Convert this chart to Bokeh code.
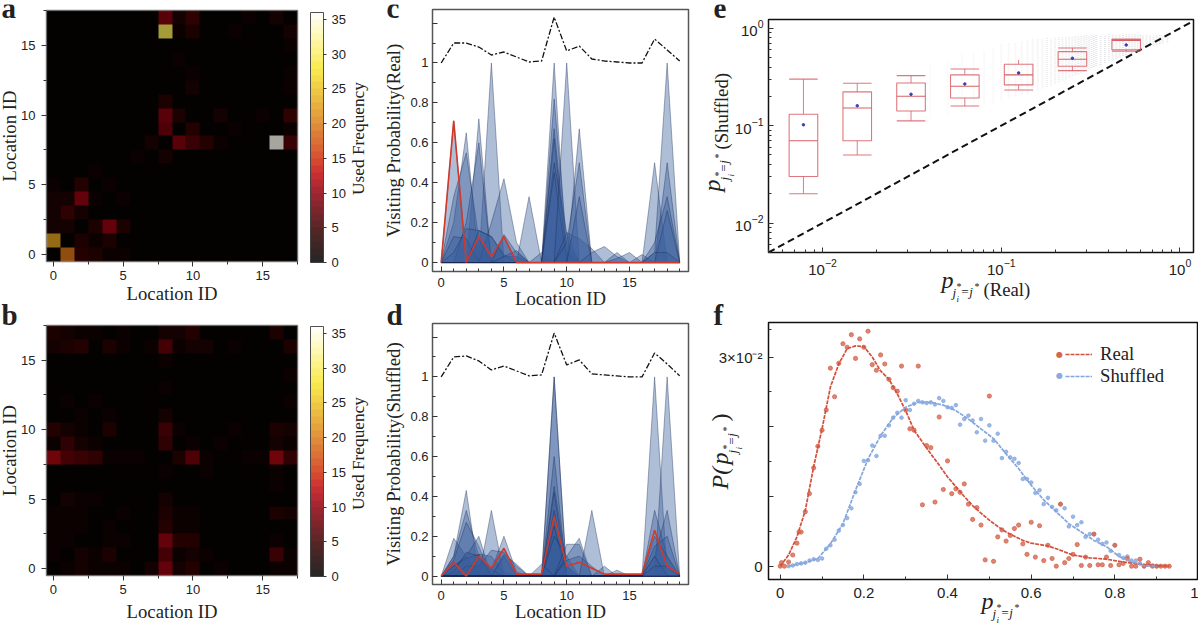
import math
import numpy as np
from bokeh.embed import file_html
from bokeh.resources import INLINE
from bokeh.plotting import figure
from bokeh.layouts import row, column
from bokeh.models import (ColorBar, FixedTicker, Label, Legend, LegendItem, LinearColorMapper,
                          LogTicker, Range1d)

# ---------- data ----------
heat_real = {
 17:{8:9,9:2,10:5,14:1.5,16:2,17:.3},
 16:{8:29.5,9:1.5,10:3,13:1.5,17:2},
 15:{17:1}, 14:{9:1}, 13:{10:1,17:1}, 12:{10:2,17:1}, 11:{8:3.5},
 10:{8:9.5,9:3.5,12:2,15:1,17:5},
 9:{8:8.5,10:4,13:1.5,17:1.5},
 8:{7:2.5,8:.2,9:9.5,10:7,11:4,12:1.5,16:36,17:6},
 7:{6:1,8:2}, 6:{3:1},
 5:{0:1.5,2:4,3:.5,4:1},
 4:{0:2,1:2.5,2:10,3:1.5,5:1},
 3:{0:2.5,1:5,2:2},
 2:{0:2,1:2.5,2:.3,3:3,4:10,5:3.5},
 1:{0:22,1:.1,2:3.5,3:1.5,4:3},
 0:{0:.2,1:19,2:4,3:3,4:1,5:1},
}
heat_shuffled = {
 17:{0:3.5,1:2.5,2:1.5,3:1.5,4:.5,5:1.5,8:2,9:2,10:4.5,16:3,17:.2},
 16:{0:2.5,1:3,2:4,3:.3,4:3.5,5:1.5,7:1,8:7.5,9:1.5,10:2,11:2,13:1,17:3},
 15:{8:1}, 14:{17:1}, 13:{8:1.5}, 12:{1:1,3:1.5,17:1},
 11:{2:1,4:1,8:2.5},
 10:{0:4,1:2,2:1.5,4:3,8:7,9:1,13:1,16:3.5,17:2},
 9:{0:1,1:5,2:2.5,3:1.5,8:5,10:1,12:1,16:2,17:1.5},
 8:{0:11.5,1:7.5,2:6.5,3:5,4:1.5,5:1.5,6:1.5,9:3.5,10:8,11:1.5,14:1,15:1,16:11.5,17:5},
 7:{8:1,11:1,16:1}, 6:{16:1},
 5:{1:2.5,2:1.5,3:1.5,8:2},
 4:{0:1,1:1.5,2:1.5,5:1,8:3.5,9:1.5,10:1,16:3,17:2},
 3:{0:1,1:1,2:1,4:1,8:4,9:1,10:1},
 2:{0:1.5,1:1,4:1.5,5:1,8:10,9:4.5,10:4.5,16:1},
 1:{0:1.5,1:.3,2:2.5,3:1,4:3.5,8:7.5,9:1,10:2,11:1,16:6,17:1},
 0:{1:1.5,2:2,3:1,4:1,5:1,7:2,8:10.5,9:2,10:4,12:1.5,16:1,17:1.5},
}

location_ids = list(range(20))
real_envelope = [1.0,1.10,1.10,1.08,1.04,1.055,1.03,1.005,1.01,1.23,1.06,1.085,1.02,1.01,1.005,1.0,1.0,1.12,1.065,1.01]
shuf_envelope = [1.0,1.10,1.105,1.08,1.035,1.055,1.03,1.005,1.01,1.22,1.06,1.085,1.015,1.01,1.005,1.0,1.0,1.12,1.065,1.005]
real_highlight = [0,.71,0,.13,.03,.13,0,0,0,0,0,0,0,0,0,0,0,0,0,0]
shuf_highlight = [0,.07,0,.10,.04,.14,.01,.01,.01,.30,.05,.07,.04,.01,.01,.01,.01,.23,.05,.01]

real_profiles = [
 {1:.71,3:.13,4:.03,5:.13}, {4:1}, {3:.72}, {1:.2,2:.65}, {1:.33,2:.55,3:.12}, {2:.2,3:.6},
 {4:.2,5:.42,6:.1}, {7:.33}, {1:.13,2:.12}, {1:.05,2:.17,3:.16,4:.13,5:.03,6:.03},
 {3:.16,4:.13,5:.04}, {5:.14,6:.05}, {5:.03,6:.06,8:.05}, {9:1}, {9:.82,10:.1}, {9:.67,10:.05},
 {9:.62}, {9:.5,10:.15}, {9:.45}, {10:1}, {10:.15,11:.12,12:.07}, {11:.67}, {10:.1,11:.5},
 {11:.33}, {12:.05,13:.08,14:.03}, {14:.05,16:.04}, {14:.02,15:.05}, {17:.5}, {17:.05,18:1},
 {18:.5}, {17:.1,18:.33}, {18:.26}, {17:.05,18:.05},
]
shuf_profiles = [
 {1:.1,2:.43}, {1:.19,2:.1}, {1:.1,2:.33,3:.1}, {1:.08,2:.27,3:.15}, {1:.05,2:.1,3:.2},
 {1:.05,2:.09,3:.11,4:.1,5:.02}, {4:.33}, {4:.03,5:.2,6:.02}, {2:.05,3:.05,4:.13,5:.12,6:.05},
 {5:.11,6:.06}, {3:.11,5:.1}, {1:.02,2:.12,3:.1,4:.03}, {1:.07,3:.10,4:.04,5:.14,6:.01},
 {9:1}, {9:1}, {9:.6}, {9:.45,10:.05}, {9:.42}, {9:.33}, {9:.3,10:.05}, {9:.25}, {9:.2,10:.1},
 {8:.06}, {10:.16,11:.16}, {10:.1,11:.19}, {10:.08,11:.1,12:.05}, {12:.33}, {13:.05}, {14:.03},
 {17:1}, {18:1}, {17:.33,18:.1}, {17:.1,18:.33}, {17:.2,18:.1}, {17:.15,18:.2}, {17:.1}, {17:.05,18:.05},
]

box_x = [1/128, 1/64, 1/32, 1/16, 1/8, 1/4, 1/2]
box_whisk_lo = [.02, .05, .112, .159, .232, .367, .58]
box_q1 = [.03, .07, .1415, .192, .262, .407, .60]
box_med = [.07, .152, .20, .254, .332, .48, .75]
box_q3 = [.131, .222, .274, .332, .427, .575, .77]
box_whisk_hi = [.30, .272, .326, .382, .473, .628, .77]
box_mean = [.102, .16, .21, .268, .348, .492, .674]

cloud_x = [.02,.03,.04,.05,.06,.07,.08,.09,.10,.11,.12,.13,.14,.15,.16,.17,.18,.19,.20,.21,.22,.23,.24,.25,.26,.27,.28,.29,.30,.31,.32,.33,.34,.36,.38,.40,.42,.44,.46,.48,.50,.52,.54,.56,.58,.60,.62,.65,.68,.71,.74,.77,.80,.85]
cloud_hi = [.32,.36,.42,.48,.54,.56,.60,.64,.69,.70,.72,.74,.76,.77,.78,.79,.80,.80,.81,.81,.82,.82,.83,.83,.84,.84,.85,.85,.85,.85,.86,.86,.86,.86,.86,.87,.87,.87,.87,.87,.87,.87,.87,.87,.87,.86,.86,.86,.86,.85,.85,.85,.84,.82]
cloud_lo = [.08,.10,.12,.13,.14,.15,.16,.17,.18,.19,.20,.21,.21,.22,.23,.24,.25,.26,.27,.28,.29,.30,.31,.32,.33,.34,.35,.36,.37,.38,.39,.40,.41,.42,.44,.46,.47,.49,.50,.52,.53,.55,.56,.58,.59,.60,.62,.63,.65,.66,.68,.69,.70,.72]

real_pts_x = [0,.003,.01,.02,.03,.04,.045,.05,.06,.07,.08,.09,.10,.11,.12,.13,.14,.15,.16,.17,.18,.19,.20,.21,.22,.23,.24,.25,.26,.27,.28,.29,.30,.31,.32,.33,.34,.35,.36,.37,.38,.39,.40,.41,.42,.43,.44,.45,.46,.47,.48,.49,.50,.51,.52,.53,.54,.55,.56,.57,.58,.59,.60,.61,.62,.63,.64,.65,.66,.67,.68,.69,.70,.71,.72,.73,.74,.75,.76,.77,.78,.79,.80,.81,.82,.83,.84,.85,.86,.87,.88,.89,.90,.91,.92,.93]
real_pts_y = [0,.05,0,.06,.16,.33,.49,.49,.78,1.04,1.41,1.72,1.95,2.24,2.84,2.43,2.91,3.19,3.14,3.32,2.98,3.26,3.14,3.37,2.89,2.81,3.03,2.90,2.68,2.56,2.51,2.87,2.24,1.97,1.95,2.87,.88,1.73,1.70,.92,2.14,1.10,1.51,1.04,1.11,1.06,1.18,.89,.67,.84,.59,.09,2.44,.07,.42,.52,.36,.44,.54,.59,.32,.17,.63,.13,.58,.08,.30,.11,0,.89,.05,.11,.17,.31,.01,.13,.01,.46,.02,.02,.13,.01,.30,.02,.04,.11,0,0,.10,0,.05,0,0,0,0,0]
real_curve_x = [0,.02,.04,.06,.08,.10,.12,.14,.16,.18,.20,.22,.24,.26,.28,.30,.32,.34,.36,.38,.40,.42,.44,.46,.48,.50,.52,.54,.56,.58,.60,.62,.64,.66,.70,.74,.78,.82,.86,.90,.93]
real_curve_y = [0,.16,.42,.80,1.43,1.97,2.57,2.90,3.12,3.16,3.15,3.0,2.80,2.68,2.47,2.23,1.95,1.78,1.61,1.45,1.28,1.14,1.0,.87,.76,.66,.57,.49,.43,.37,.33,.31,.29,.25,.16,.12,.10,.06,.03,.005,0]

shuf_pts_x = [round(.02 + .01*k, 2) for k in range(89)]
shuf_pts_y = [0,.01,.03,.04,.05,.08,.10,.09,.11,.25,.30,.38,.51,.59,.69,.83,1.06,1.18,1.51,1.52,1.73,1.58,1.87,1.87,2.02,2.13,2.20,2.13,2.38,2.24,2.33,2.37,2.35,2.34,2.35,2.32,2.41,2.37,2.28,2.27,2.31,2.03,2.11,2.16,2.09,1.92,2.11,1.80,2.02,1.80,1.90,1.55,1.64,1.56,1.54,1.48,1.25,1.25,1.20,1.05,1.09,.89,.98,.85,.80,.89,.83,.57,.71,.59,.63,.42,.46,.46,.38,.32,.34,.22,.30,.16,.12,.14,.08,.08,.04,0,.02,.01,0]
shuf_curve_x = [.02,.06,.09,.12,.15,.18,.21,.24,.27,.30,.33,.36,.39,.42,.45,.48,.51,.54,.57,.60,.63,.66,.69,.72,.75,.78,.81,.84,.87,.90]
shuf_curve_y = [0,.05,.11,.32,.61,1.09,1.54,1.87,2.13,2.28,2.35,2.35,2.31,2.23,2.11,1.97,1.83,1.61,1.40,1.16,.95,.78,.61,.49,.37,.28,.14,.06,.01,0]

# ---------- style ----------
SERIF = "Liberation Serif"
SANS = "Liberation Sans"
RED = "#d85f66"

anchor_v = [0, 5, 10, 13, 15, 20, 25, 28, 33, 36]
anchor_c = [(0,0,0),(61,0,2),(143,0,14),(196,14,14),(208,49,14),(220,126,26),(237,196,37),(249,232,49),(255,249,178),(255,255,255)]
grid_v = np.arange(36) + .5
palette = ["#%02x%02x%02x" % tuple(int(np.interp(v, anchor_v, [c[i] for c in anchor_c])) for i in range(3)) for v in grid_v]


def style_axes(p, tick_in, size="13px"):
    for ax in (p.xaxis[0], p.yaxis[0]):
        ax.major_label_text_font = SANS
        ax.major_label_text_font_size = size
        ax.major_label_text_color = "#222222"
        ax.axis_label_text_font = SERIF
        ax.axis_label_text_font_style = "normal"
        ax.axis_label_text_font_size = "18.7px"
        ax.axis_label_text_color = "#222222"
        ax.axis_line_color = None
        ax.major_tick_line_color = "#333333"
        ax.minor_tick_line_color = "#333333"
        if tick_in:
            ax.major_tick_in, ax.major_tick_out = 5, 0
            ax.minor_tick_in, ax.minor_tick_out = 3, 0
        else:
            ax.major_tick_in, ax.major_tick_out = 0, 5
            ax.minor_tick_in, ax.minor_tick_out = 0, 3


def base(width, height, fw, fh, left, right, top, bottom, **kw):
    p = figure(width=width, height=height, frame_width=fw, frame_height=fh,
               min_border_left=left, min_border_right=right, min_border_top=top, min_border_bottom=bottom,
               toolbar_location=None, output_backend="svg", **kw)
    p.grid.visible = False
    p.background_fill_color = "white"
    return p


def heat_panel(values, width, height, left, right, top, bottom, fh, x_standoff):
    p = base(width, height, 251, fh, left, right, top, bottom,
             x_range=Range1d(-.5, 17.5), y_range=Range1d(-.5, 17.5))
    grid = np.zeros((18, 18))
    for r, cols in values.items():
        for c, v in cols.items():
            grid[r, c] = v
    mapper = LinearColorMapper(palette=palette, low=0, high=36)
    p.background_fill_color = "#050505"
    p.image(image=[grid], x=-.5, y=-.5, dw=18, dh=18, color_mapper=mapper, global_alpha=.65)
    p.outline_line_color = "#808080"
    p.outline_line_width = 1.5
    p.xaxis.axis_label = "Location ID"
    p.yaxis.axis_label = "Location ID"
    ticks = FixedTicker(ticks=[0, 5, 10, 15], minor_ticks=[2.5, 7.5, 12.5, 17.5])
    p.xaxis.ticker = ticks
    p.yaxis.ticker = ticks
    style_axes(p, False)
    p.xaxis.major_label_standoff = 4
    p.xaxis.axis_label_standoff = x_standoff
    p.yaxis.major_label_standoff = 6
    p.yaxis.axis_label_standoff = -2
    cb = ColorBar(color_mapper=mapper, width=13, height=250, location=(264, -1), margin=0, padding=0,
                  ticker=FixedTicker(ticks=[0, 5, 10, 15, 20, 25, 30, 35]), minor_tick_line_color=None,
                  major_tick_in=0, major_tick_out=3, major_tick_line_color="#333333",
                  bar_line_color="#333333", bar_line_width=1, scale_alpha=.85, label_standoff=5,
                  major_label_text_font=SANS, major_label_text_font_size="13px",
                  major_label_text_color="#222222", background_fill_alpha=0, border_line_color=None)
    p.add_layout(cb)
    return p


def profile_panel(profiles, highlight, envelope, ylabel, height, top, bottom, fh, ymin):
    p = base(323, height, 256, fh, 57, 10, top, bottom,
             x_range=Range1d(-.69, 19.7), y_range=Range1d(ymin, 1.268))
    xs, ys = [], []
    for prof in profiles:
        xs.append([0] + location_ids + [19])
        ys.append([0] + [prof.get(i, 0) for i in location_ids] + [0])
    p.patches(xs, ys, fill_color="#375c9b", fill_alpha=.4, line_color="#1a2a55", line_alpha=.55, line_width=.7)
    p.line(location_ids, highlight, line_color="#d03a2a", line_width=1.6)
    p.line(location_ids, envelope, line_color="#111111", line_width=1.3, line_dash="6 2 2 2")
    p.outline_line_color = "#555555"
    p.outline_line_width = 1.5
    p.xaxis.axis_label = "Location ID"
    p.yaxis.axis_label = ylabel
    p.xaxis.ticker = FixedTicker(ticks=[0, 5, 10, 15], minor_ticks=list(range(0, 20)))
    p.yaxis.ticker = FixedTicker(ticks=[0, .2, .4, .6, .8, 1, 1.2], minor_ticks=[.1, .3, .5, .7, .9, 1.1])
    p.yaxis.major_label_overrides = {0: "0", .2: "0.2", .4: "0.4", .6: "0.6", .8: "0.8", 1: "1", 1.2: ""}
    style_axes(p, True)
    p.xaxis.major_label_standoff = 6
    p.xaxis.axis_label_standoff = -2
    p.yaxis.major_label_standoff = 4
    p.yaxis.axis_label_standoff = 3
    return p


# ---------- panels ----------
a = heat_panel(heat_real, 375, 316, 46, 78, 10, 55, 251, 0)
b = heat_panel(heat_shuffled, 375, 304, 46, 78, 9, 45, 250, 4)
c = profile_panel(real_profiles, real_highlight, real_envelope, "Visiting Probability(Real)", 316, 9, 45, 262, -.045)
d = profile_panel(shuf_profiles, shuf_highlight, shuf_envelope, "Visiting Probability(Shuffled)", 304, 7, 36, 261, -.042)

# e
e = base(502, 316, 425, 233, 70, 7, 19, 64, x_axis_type="log", y_axis_type="log",
         x_range=Range1d(.00498, 1.19), y_range=Range1d(.00498, 1.23))
cloud_alpha = list(np.interp(np.log10(cloud_x), [-1.7, -1, -.5, 0], [.08, .25, .55, .65]))
e.segment(cloud_x, cloud_lo, cloud_x, cloud_hi, line_color="#d4d4da", line_width=2, line_alpha=cloud_alpha, line_dash="1 1")
half = 10 ** .08
cap_left = [v / half for v in box_x]
cap_right = [v * half for v in box_x]
e.line([.00498, 1.19], [.00498, 1.19], line_color="#111111", line_width=2, line_dash="7 4")
e.segment(box_x, box_whisk_lo, box_x, box_q1, line_color=RED, line_alpha=.8)
e.segment(box_x, box_q3, box_x, box_whisk_hi, line_color=RED, line_alpha=.8)
e.segment(cap_left, box_whisk_lo, cap_right, box_whisk_lo, line_color=RED, line_alpha=.85, line_width=1.1)
e.segment(cap_left[:4] + cap_left[5:], box_whisk_hi[:4] + box_whisk_hi[5:], cap_right[:4] + cap_right[5:],
          box_whisk_hi[:4] + box_whisk_hi[5:], line_color=RED, line_alpha=.85, line_width=1.1)
e.quad(left=cap_left, right=cap_right, bottom=box_q1, top=box_q3, fill_color=None, line_color=RED, line_width=1.1, line_alpha=.85)
e.segment(cap_left, box_med, cap_right, box_med, line_color=RED, line_width=1.1)
e.scatter(box_x, box_mean, size=2.5, color="#3a3fb0")
e.outline_line_color = "#111111"
e.outline_line_width = 1.5
e.xaxis.ticker = LogTicker(num_minor_ticks=10, desired_num_ticks=3)
e.yaxis.ticker = LogTicker(num_minor_ticks=10, desired_num_ticks=3)
style_axes(e, True, "15px")
e.xaxis.major_label_standoff = 6
e.yaxis.major_label_standoff = 5

# f
f = base(500, 304, 430, 257, 70, 0, 6, 41, x_range=Range1d(-.028, 1.0), y_range=Range1d(-.191, 3.495))
f.scatter(shuf_pts_x, shuf_pts_y, size=3.6, color="#8aaae0", alpha=.85)
f.scatter(real_pts_x, real_pts_y, size=4.2, color="#d4664f", alpha=.8)
line_r = f.line(real_curve_x, real_curve_y, line_color="#d2503c", line_width=1.7, line_dash="4 1")
line_s = f.line(shuf_curve_x, shuf_curve_y, line_color="#85a5dc", line_width=1.7, line_dash="4 1")
f.outline_line_color = "#111111"
f.outline_line_width = 1.5
f.xaxis.ticker = FixedTicker(ticks=[0, .2, .4, .6, .8, 1], minor_ticks=[.1, .3, .5, .7, .9])
f.xaxis.major_label_overrides = {0: "0", .2: "0.2", .4: "0.4", .6: "0.6", .8: "0.8", 1: "1"}
f.yaxis.ticker = FixedTicker(ticks=[0, 1, 2, 3], minor_ticks=[.5, 1.5, 2.5, 3.4])
f.yaxis.major_label_overrides = {0: "0", 1: "", 2: "", 3: "3×10⁻²"}
style_axes(f, True, "15px")
f.xaxis.major_label_standoff = 8
f.yaxis.major_label_standoff = 6
legend = Legend(items=[LegendItem(label="Real", renderers=[line_r]), LegendItem(label="Shuffled", renderers=[line_s])],
                location=(297, 192), background_fill_alpha=0, border_line_alpha=0, glyph_width=27, glyph_height=20,
                label_text_font=SERIF, label_text_font_size="18.7px", label_text_color="#222222",
                label_standoff=8, spacing=0, padding=0, margin=0)
f.add_layout(legend)
for text_y, col in ((225, "#d4664f"), (204, "#8aaae0")):
    f.add_layout(Label(x=291, y=text_y, x_units="screen", y_units="screen", text="●", text_font="DejaVu Sans",
                       text_font_size="8px", text_color=col, text_align="center", text_baseline="middle"))

# ---------- transparent layer for the texts that lie outside the panels' frames ----------
PAGE_H = 620
top = figure(width=1200, height=PAGE_H, frame_width=1200, frame_height=PAGE_H, min_border=0,
             x_range=Range1d(0, 1200), y_range=Range1d(PAGE_H, 0), x_axis_location=None, y_axis_location=None,
             toolbar_location=None, output_backend="svg", margin=(-PAGE_H, 0, 0, 0),
             background_fill_alpha=0, border_fill_alpha=0, outline_line_color=None)
top.grid.visible = False


def note(text, x, y, size, style="normal", rotated=False, align="left", baseline="alphabetic"):
    if baseline == "alphabetic":
        if rotated:
            x -= size / 2
        else:
            y -= size / 2
    top.add_layout(Label(x=x, y=y, text=text, text_font=SERIF, text_font_style=style, text_font_size=f"{size}px",
                         text_color="#222222", text_align=align, text_baseline=baseline,
                         angle=math.pi/2 if rotated else 0))


for t, lx, ly in (("a", 1, 18), ("b", 1, 325), ("c", 386, 18), ("d", 386, 325), ("e", 713, 18), ("f", 713, 325)):
    note(t, lx, ly, 29, "bold")
for ly in (134, 449):
    note("Used Frequency", 358, ly, 17.3, rotated=True, align="center", baseline="middle")


def math_p(x, y, rotated=False, prefix=None, suffix=None):
    parts = []
    dx0 = 0
    if prefix:
        parts.append((prefix, 24, "italic", 0, 0))
        dx0 = 25
    parts += [("p", 24, "italic", dx0, 0), ("j", 13, "italic", dx0 + 11, -7), ("i", 9, "italic", dx0 + 15, -12),
              ("*", 10, "normal", dx0 + 15, 0), ("=j", 13, "italic", dx0 + 19, -6), ("*", 10, "normal", dx0 + 33, 0)]
    if suffix:
        parts.append(suffix)
    for text, fs, style, dx, dy in parts:
        if rotated:
            note(text, x - dy, y - dx, fs, style, rotated=True)
        else:
            note(text, x + dx, y - dy, fs, style)


math_p(941, 287, suffix=("(Real)", 18.7, "normal", 42, -7))
math_p(723, 187, rotated=True, suffix=("(Shuffled)", 18.7, "normal", 42, -7))
math_p(981, 608)
math_p(731, 485, rotated=True, prefix="P(", suffix=(")", 24, "normal", 68, 0))

layout = column(row(column(a, b, spacing=0), column(c, d, spacing=0), column(e, f, spacing=0), spacing=0, margin=(0, 0, 0, -4)),
                top, spacing=0)
open("out.html", "w").write(file_html(layout, INLINE))
